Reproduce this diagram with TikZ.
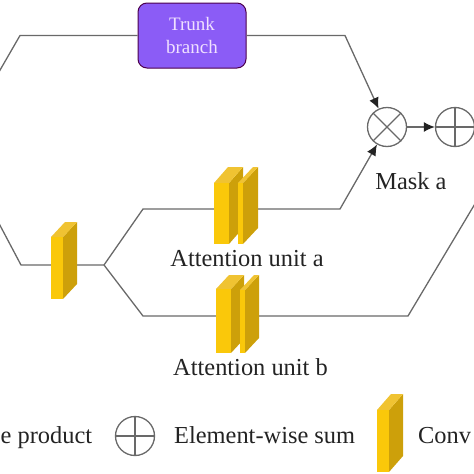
\documentclass[tikz,border=0pt]{standalone}
\usepackage{fontspec}
\setmainfont{Liberation Serif}
\usetikzlibrary{arrows.meta}
\definecolor{lineg}{RGB}{105,105,105}
\definecolor{yfront}{RGB}{250,200,10}
\definecolor{yside}{RGB}{205,160,10}
\definecolor{ytop}{RGB}{240,195,50}
\definecolor{inkd}{RGB}{35,35,35}
\tikzset{
  link/.style={draw=lineg,line width=1.3pt},
  arrowlink/.style={link,-{Latex[length=11pt,width=10pt,color=inkd]}},
  opcircle/.style={circle,draw=lineg,line width=1.3pt,minimum size=39pt,inner sep=0pt},
  lab/.style={font=\fontsize{24.4}{26}\selectfont,text=inkd,inner sep=0pt,anchor=base},
  labl/.style={font=\fontsize{24.4}{26}\selectfont,text=inkd,inner sep=0pt,anchor=base west},
  trunk/.style={draw=violet!60!black,line width=1pt,fill={rgb,255:red,139;green,92;blue,246},rounded corners=9pt,
    minimum width=108pt,minimum height=65pt,inner sep=0pt,align=center,text={rgb,255:red,240;green,225;blue,255},
    font=\fontsize{19}{23}\selectfont}
}
% block: #1 name, #2 x of front left, #3 y top of front, #4 y bottom, #5 front width, #6 depth x, #7 depth y
\newcommand{\convblock}[7]{%
  \fill[yside] (#2+#5,#3) -- (#2+#5+#6,#3-#7) -- (#2+#5+#6,#4-#7) -- (#2+#5,#4) -- cycle;
  \fill[ytop] (#2,#3) -- (#2+#6,#3-#7) -- (#2+#5+#6,#3-#7) -- (#2+#5,#3) -- cycle;
  \fill[yfront] (#2,#3) rectangle (#2+#5,#4);
  \coordinate (#1West) at (#2,{(#3+#4)/2});
  \coordinate (#1East) at (#2+#5+#6,{(#3+#4)/2});
}
\begin{document}
\begin{tikzpicture}[x=1pt,y=-1pt]
\useasboundingbox (0,0) rectangle (474,474);
\clip (0,0) rectangle (474,474);
\node[trunk] (tb) at (192,35.5) {Trunk\\branch};
\node[opcircle] (mul) at (387,127) {};
\node[opcircle] (add) at (455,127) {};
\draw[lineg,line width=1.3pt] (mul.45) -- (mul.225) (mul.135) -- (mul.315);
\draw[lineg,line width=1.3pt] (add.north) -- (add.south) (add.west) -- (add.east);
\coordinate (tl0) at (-8,84);
\coordinate (tl1) at (20,35.5);
\coordinate (tr1) at (345,35.5);
\coordinate (ll0) at (-6,214);
\coordinate (ll1) at (21,265);
\coordinate (fork) at (104,265);
\coordinate (ua) at (143,209);
\coordinate (ub) at (143,316);
\coordinate (ar) at (340,209);
\coordinate (br) at (408,316);
\coordinate (brend) at (485,187);
\draw[link] (tl0) -- (tl1) -- (tb.west);
\draw[arrowlink] (tb.east) -- (tr1) -- (mul);
\draw[link] (ll0) -- (ll1) -- (fork);
\draw[link] (fork) -- (ua) -- (214,209);
\draw[link] (fork) -- (ub) -- (216,316);
\draw[arrowlink] (258,209) -- (ar) -- (mul);
\draw[link] (259,316) -- (br) -- (brend);
\draw[arrowlink] (mul) -- (add);
\convblock{c}{51}{237}{299}{12}{14}{15}
\convblock{a}{214}{183}{244}{15}{14}{16}
\convblock{aa}{238}{183}{244}{5}{15}{16}
\convblock{b}{216}{289}{353}{15}{13}{14}
\convblock{bb}{240}{290}{353}{5}{14}{15}
\node[lab] (lm) at (411,189) {Mask a};
\node[lab] (la) at (247,266) {Attention unit a};
\node[lab] (lb) at (250.5,375) {Attention unit b};
\node[labl] (l1) at (0.5,443) {e product};
\node[opcircle] (leg) at (135,436) {};
\draw[lineg,line width=1.2pt] (leg.north) -- (leg.south) (leg.west) -- (leg.east);
\node[labl] (l2) at (174,443) {Element-wise sum};
\convblock{l}{377}{410}{472}{12}{14}{16}
\node[labl] (l3) at (418,443) {Conv};
\end{tikzpicture}
\end{document}
